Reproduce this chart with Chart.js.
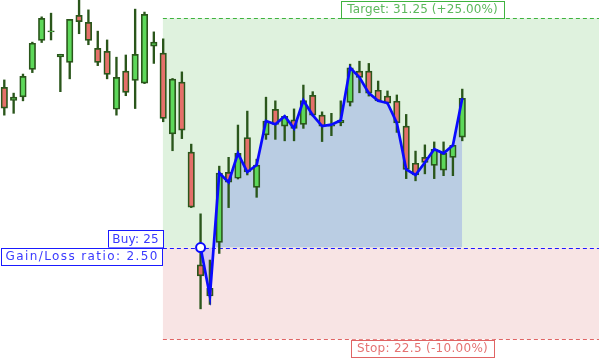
<!DOCTYPE html>
<html>
<head>
<meta charset="utf-8">
<title>Position chart</title>
<script src="https://cdn.jsdelivr.net/npm/chart.js@4/dist/chart.umd.min.js"></script>
<style>
  html, body { margin: 0; padding: 0; background: #fff; }
  #wrap { width: 599px; height: 358px; position: relative; }
</style>
</head>
<body>
<div id="wrap"><canvas id="chart"></canvas></div>
<script>
/* candle data, one entry per bar */
var opens = [29.37, 29.01, 29.11, 29.86, 30.65, 30.88, 30.20, 30.05, 31.33, 31.14,
  30.43, 30.35, 28.77, 29.81, 29.56, 29.48, 30.49, 30.30, 28.10, 29.51,
  27.60, 24.53, 23.89, 25.14, 27.05, 26.89, 28.00, 26.64, 28.07, 28.77,
  28.31, 28.48, 28.36, 29.15, 28.61, 28.31, 28.40, 28.96, 29.81, 29.81,
  29.29, 29.13, 28.99, 28.31, 27.30, 27.46, 27.24, 27.11, 27.46, 28.01];
var highs = [29.57, 29.21, 29.73, 30.60, 31.29, 31.39, 30.27, 31.22, 31.78, 31.48,
  30.90, 30.66, 30.19, 30.25, 31.50, 31.42, 30.88, 30.69, 29.61, 29.79,
  27.82, 25.92, 24.66, 27.22, 27.46, 28.34, 28.72, 27.41, 29.10, 29.00,
  28.59, 28.78, 29.43, 29.25, 28.70, 28.66, 29.00, 30.00, 30.08, 30.02,
  29.54, 29.27, 29.16, 28.63, 27.63, 27.80, 27.88, 27.88, 27.80, 29.32];
var lows = [28.61, 28.66, 29.00, 29.77, 30.59, 30.66, 29.25, 29.60, 30.83, 30.53,
  29.96, 29.60, 28.61, 29.14, 28.79, 29.47, 30.02, 28.43, 27.64, 27.97,
  26.09, 23.33, 23.45, 24.84, 26.09, 26.87, 26.98, 26.37, 27.95, 27.95,
  27.91, 27.91, 28.25, 28.59, 27.89, 28.05, 28.32, 28.86, 29.22, 29.13,
  28.98, 28.91, 28.14, 26.88, 26.82, 27.01, 26.88, 26.96, 26.96, 27.91];
var closes = [28.80, 29.10, 29.67, 30.57, 31.25, 30.91, 30.27, 31.22, 31.16, 30.65,
  30.05, 29.72, 29.64, 29.23, 30.27, 31.36, 30.60, 28.52, 29.59, 28.20,
  26.10, 24.23, 23.68, 27.03, 26.78, 27.57, 27.06, 27.25, 28.45, 28.36,
  28.58, 28.25, 29.01, 28.61, 28.31, 28.35, 28.47, 29.90, 29.64, 29.21,
  29.00, 28.94, 28.40, 27.13, 26.98, 27.32, 27.68, 27.57, 27.79, 29.07];

/* position */
var buyIndex = 21;
var buyPrice = 25;
var targetPrice = 31.25;
var stopPrice = 22.5;
var zoneStart = 16.97;     // where the target/stop boxes begin (bar index)
var labelCenter = 44.75;   // target/stop labels centred here (bar index)

var EDGE = "#2a561b";
var UP = "#5dd85a";
var DOWN = "#e5706a";

var bodies = [], wicks = [], bodyColors = [];
for (var i = 0; i < opens.length; i++) {
  bodies.push({ x: i, y: [opens[i], closes[i]] });
  wicks.push({ x: i, y: [lows[i], highs[i]] });
  bodyColors.push(closes[i] >= opens[i] ? UP : DOWN);
}

// equity line: entry at the buy price, then the closes after it
var path = [{ x: buyIndex, y: buyPrice }];
for (var j = buyIndex + 1; j < closes.length; j++) {
  path.push({ x: j, y: closes[j] });
}

function label(ctx, text, cx, top, align, border, color, spacing, pad) {
  ctx.font = '12px "DejaVu Sans"';
  ctx.letterSpacing = (spacing || 0) + "px";
  pad = pad || 6;
  var w = ctx.measureText(text).width + pad * 2;
  var h = 17;
  var left = align === "right" ? cx - w : cx - w / 2;
  ctx.fillStyle = "#fff";
  ctx.fillRect(left, top, w, h);
  ctx.strokeStyle = border;
  ctx.lineWidth = 1;
  ctx.strokeRect(Math.round(left) + 0.5, Math.round(top) + 0.5, Math.round(w), h);
  ctx.fillStyle = color;
  ctx.textBaseline = "middle";
  ctx.textAlign = "left";
  ctx.fillText(text, left + pad, top + h / 2 + 1);
  ctx.letterSpacing = "0px";
}

function hline(ctx, y, x0, x1, color) {
  ctx.save();
  ctx.strokeStyle = color;
  ctx.lineWidth = 1;
  ctx.setLineDash([4, 3]);
  ctx.beginPath();
  ctx.moveTo(x0, Math.round(y) + 0.5);
  ctx.lineTo(x1, Math.round(y) + 0.5);
  ctx.stroke();
  ctx.restore();
}

var overlay = {
  id: "overlay",
  beforeDraw: function (chart) {
    var ctx = chart.ctx, sx = chart.scales.x, sy = chart.scales.y, a = chart.chartArea;
    var left = sx.getPixelForValue(zoneStart);
    var yT = sy.getPixelForValue(targetPrice);
    var yB = sy.getPixelForValue(buyPrice);
    var yS = sy.getPixelForValue(stopPrice);
    ctx.save();
    ctx.fillStyle = "#dff2de";
    ctx.fillRect(left, yT, a.right - left, yB - yT);
    ctx.fillStyle = "#f8e4e4";
    ctx.fillRect(left, yB, a.right - left, yS - yB);
    ctx.restore();
  },
  beforeDatasetsDraw: function (chart) {
    var ctx = chart.ctx, sx = chart.scales.x, sy = chart.scales.y, a = chart.chartArea;
    var left = sx.getPixelForValue(zoneStart);
    hline(ctx, sy.getPixelForValue(targetPrice), left, a.right, "#3fb33f");
    hline(ctx, sy.getPixelForValue(buyPrice), left, a.right, "#1a1aff");
    hline(ctx, sy.getPixelForValue(stopPrice), left, a.right, "#e06464");
  },
  afterDatasetsDraw: function (chart) {
    var ctx = chart.ctx, sx = chart.scales.x, sy = chart.scales.y;
    var left = sx.getPixelForValue(zoneStart);
    var mid = sx.getPixelForValue(labelCenter);
    var yT = sy.getPixelForValue(targetPrice);
    var yB = sy.getPixelForValue(buyPrice);
    var yS = sy.getPixelForValue(stopPrice);
    var gain = (targetPrice - buyPrice) / buyPrice * 100;
    var loss = (stopPrice - buyPrice) / buyPrice * 100;
    var ratio = (targetPrice - buyPrice) / (buyPrice - stopPrice);
    ctx.save();
    label(ctx, "Target: " + targetPrice + " (+" + gain.toFixed(2) + "%)", mid, yT - 17.5, "center", "#3fb33f", "#5cb85c", 0.1, 6);
    label(ctx, "Stop: " + stopPrice + " (" + loss.toFixed(2) + "%)", mid, yS + 0.5, "center", "#e06464", "#e57373", 0.3, 6);
    label(ctx, "Buy: " + buyPrice, left, yB - 17.5, "right", "#1a1aff", "#3a3aff", 0.2, 4);
    label(ctx, "Gain/Loss ratio: " + ratio.toFixed(2), left, yB, "right", "#1a1aff", "#3a3aff", 1.4, 4);
    ctx.restore();
  }
};

new Chart(document.getElementById("chart"), {
  type: "bar",
  data: {
    datasets: [
      {
        type: "line",
        data: path,
        borderColor: "#0a0aff",
        borderWidth: 2.7,
        tension: 0,
        pointRadius: function (c) { return c.dataIndex === 0 ? 4.5 : 0; },
        pointBackgroundColor: "#fff",
        pointBorderColor: "#0a0aff",
        pointBorderWidth: 2,
        fill: { target: { value: buyPrice }, above: "#bacde3", below: "#d6c8eb" }
      },
      {
        data: bodies,
        backgroundColor: bodyColors,
        borderColor: EDGE,
        borderWidth: 1.7,
        borderSkipped: false,
        barThickness: 6.5,
        grouped: false
      },
      {
        data: wicks,
        backgroundColor: EDGE,
        barThickness: 1.7,
        grouped: false
      }
    ]
  },
  options: {
    responsive: true,
    maintainAspectRatio: false,
    animation: false,
    layout: { padding: 0, autoPadding: false },
    plugins: {
      legend: { display: false },
      tooltip: { enabled: false },
      filler: { drawTime: "beforeDatasetsDraw" }
    },
    scales: {
      x: { type: "linear", display: false, offset: false, min: -0.46, max: 63.63 },
      y: { display: false, min: 21.99, max: 31.749 }
    }
  },
  plugins: [overlay]
});
</script>
</body>
</html>
